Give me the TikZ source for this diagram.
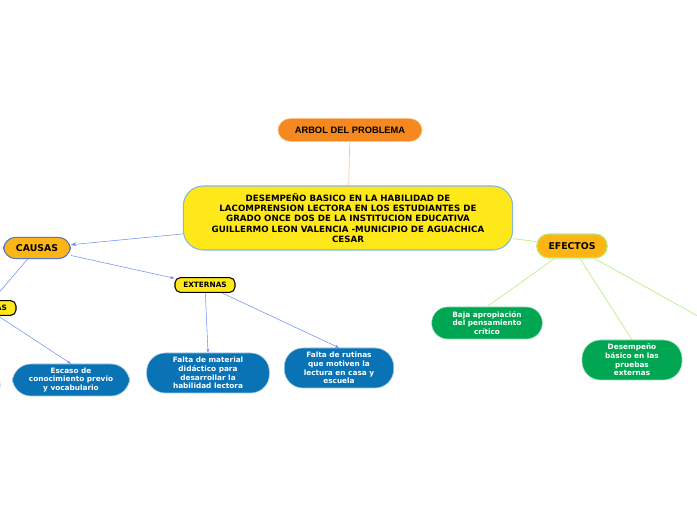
\documentclass[tikz,border=0pt]{standalone}
\usepackage{fontspec}
\setmainfont{DejaVu Sans}
\newfontfamily\arialf{Liberation Sans}
\usetikzlibrary{arrows.meta}
\definecolor{yel}{HTML}{FFE81A}
\definecolor{org}{HTML}{FDB515}
\definecolor{org2}{HTML}{F5891F}
\definecolor{blu}{HTML}{0A73B5}
\definecolor{grn}{HTML}{00A651}
\definecolor{lblue}{HTML}{6E8EF5}
\definecolor{lgrn}{HTML}{B5F07A}
\tikzset{
 base/.style={rounded corners=9pt, align=center, font=\bfseries\fontsize{5.5}{6.5}\selectfont, inner sep=1pt},
 leafb/.style={base, fill=blu, draw=blu!40, text=white, minimum height=30pt, rounded corners=14pt},
 leafg/.style={base, fill=grn, draw=grn!40, text=white, minimum height=24pt, rounded corners=12pt},
 bl/.style={draw=lblue, line width=0.4pt},
 gl/.style={draw=lgrn, line width=0.5pt},
}
\begin{document}
\begin{tikzpicture}[x=0.75pt,y=-0.75pt]
\useasboundingbox (0,0) rectangle (697,520);
\begin{scope}
\clip (0,0) rectangle (697,520);
\node[base, fill=org2, draw=org2!60, minimum width=108pt, minimum height=17pt, font=\arialf\bfseries\fontsize{7}{8}\selectfont] (arbol) at (350,130) {ARBOL DEL PROBLEMA};
\node[base, fill=yel, draw=blu!50, line width=0.8pt, minimum width=247pt, minimum height=48pt, rounded corners=15pt, font=\bfseries\fontsize{6.5}{7.6}\selectfont] (main) at (348,218) {DESEMPEÑO BASICO EN LA HABILIDAD DE\\LACOMPRENSION LECTORA EN LOS ESTUDIANTES DE\\GRADO ONCE DOS DE LA INSTITUCION EDUCATIVA\\GUILLERMO LEON VALENCIA -MUNICIPIO DE AGUACHICA\\CESAR};
\node[base, fill=org, draw=lblue!80!black, line width=0.8pt, minimum width=50pt, minimum height=16pt, font=\bfseries\fontsize{7}{8}\selectfont] (causas) at (37,248) {CAUSAS};
\node[base, fill=yel, draw=black, line width=0.8pt, minimum width=45pt, minimum height=11pt, rounded corners=4pt] (ext) at (205,285) {EXTERNAS};
\node[base, fill=yel, draw=black, line width=0.8pt, minimum width=45pt, minimum height=11pt, rounded corners=4pt] (int) at (-14,308) {INTERNAS};
\node[leafb, minimum width=88pt, minimum height=24pt] (esc) at (71,380) {Escaso de\\conocimiento previo\\y vocabulario};
\node[leafb, minimum width=92pt] (mat) at (208,373) {Falta de material\\didáctico para\\desarrollar la\\habilidad lectora};
\node[leafb, minimum width=82pt] (rut) at (339,368) {Falta de rutinas\\que motiven la\\lectura en casa y\\escuela};
\node[leafb, minimum width=60pt] (other) at (-40,385) {};
\node[base, fill=org, draw=lgrn, line width=0.8pt, minimum width=53pt, minimum height=18pt, font=\bfseries\fontsize{7}{8}\selectfont] (efe) at (572,246) {EFECTOS};
\node[leafg, minimum width=83pt] (baja) at (487,323) {Baja apropiación\\del pensamiento\\crítico};
\node[leafg, minimum width=75pt, minimum height=30pt, rounded corners=14pt] (des) at (632,360) {Desempeño\\básico en las\\pruebas\\externas};
\coordinate (off) at (705,320);
\draw[draw=org2!50, line width=0.5pt] (arbol) -- (main);
\draw[bl, -{Stealth[length=4pt]}] (main) -- (causas);
\draw[bl, -{Stealth[length=3pt]}] (causas) -- (ext);
\draw[bl] (causas) -- (int);
\draw[bl, -{Stealth[length=3pt]}] (int) -- (esc.north);
\draw[bl, -{Stealth[length=3pt]}] (ext) -- (mat.north);
\draw[bl, -{Stealth[length=3pt]}] (ext) -- (rut.north);
\draw[gl] (main) -- (efe);
\draw[gl] (efe) -- (baja.north);
\draw[gl] (efe) -- (des.north);
\draw[gl] (efe) -- (off);
\end{scope}
\end{tikzpicture}
\end{document}
